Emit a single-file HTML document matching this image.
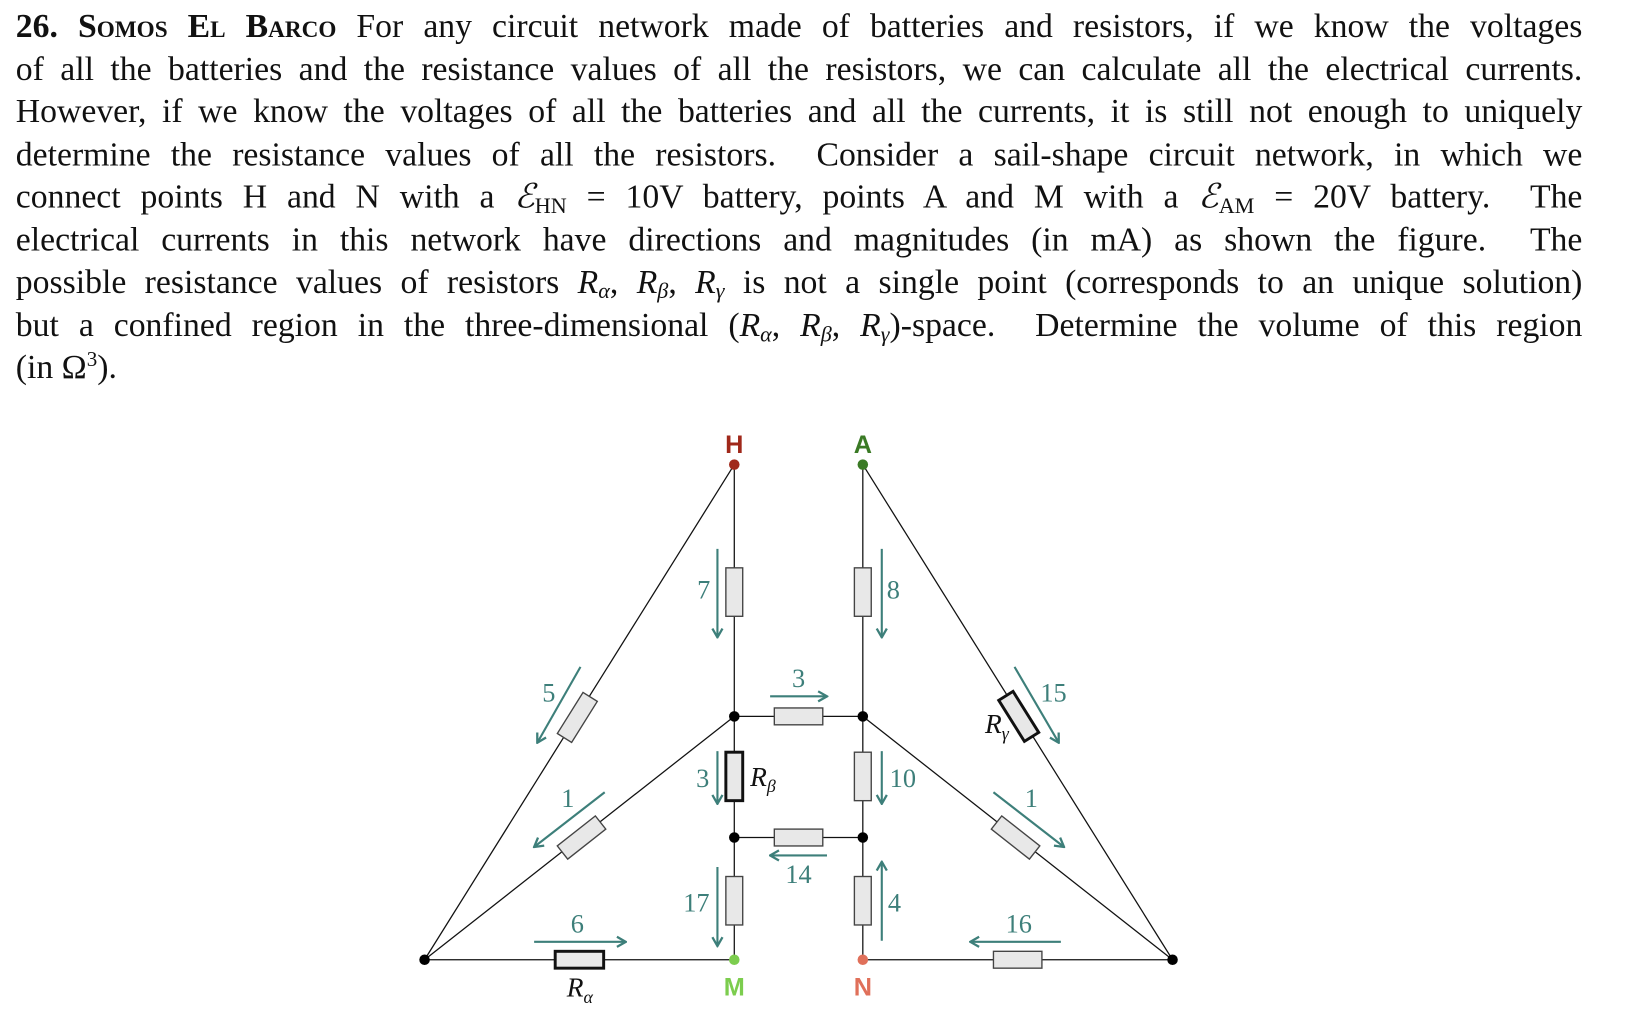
<!DOCTYPE html>
<html><head><meta charset="utf-8"><style>
html,body{margin:0;padding:0;background:#fff;width:1651px;height:1032px;overflow:hidden}
#w{position:absolute;left:0;top:0;width:1560px;height:975px;transform:scale(1.0535);transform-origin:0 0}
.t{position:absolute;left:15px;width:1487px;font-family:"Liberation Serif",serif;font-size:32px;color:#111}
.l{height:40.5px;line-height:40.5px;text-align:justify;text-align-last:justify;white-space:nowrap}
.l.last{text-align-last:left}
i{font-style:italic}
sub{font-size:21px;vertical-align:-5px;line-height:0}
.sc{font-variant:small-caps;font-weight:bold}
</style></head><body><div id="w">
<div class="t" style="top:4px">
<div class="l"><b>26.</b> <span class="sc">Somos El Barco</span> For any circuit network made of batteries and resistors, if we know the voltages</div>
<div class="l">of all the batteries and the resistance values of all the resistors, we can calculate all the electrical currents.</div>
<div class="l">However, if we know the voltages of all the batteries and all the currents, it is still not enough to uniquely</div>
<div class="l">determine the resistance values of all the resistors. &nbsp;Consider a sail-shape circuit network, in which we</div>
<div class="l">connect points H and N with a <i>ℰ</i><sub>HN</sub> = 10V battery, points A and M with a <i>ℰ</i><sub>AM</sub> = 20V battery. &nbsp;The</div>
<div class="l">electrical currents in this network have directions and magnitudes (in mA) as shown the figure. &nbsp;The</div>
<div class="l">possible resistance values of resistors <i>R</i><sub><i>α</i></sub>, <i>R</i><sub><i>β</i></sub>, <i>R</i><sub><i>γ</i></sub> is not a single point (corresponds to an unique solution)</div>
<div class="l">but a confined region in the three-dimensional (<i>R</i><sub><i>α</i></sub>, <i>R</i><sub><i>β</i></sub>, <i>R</i><sub><i>γ</i></sub>)-space. &nbsp;Determine the volume of this region</div>
<div class="l last">(in Ω<sup style="font-size:20px;line-height:0">3</sup>).</div>
</div>
<svg style="position:absolute;left:0;top:0" width="1560" height="975" viewBox="0 0 1560 975">
<defs><marker id="ah" viewBox="0 0 10 10" refX="9" refY="5" markerWidth="12" markerHeight="12" orient="auto" markerUnits="userSpaceOnUse"><polyline points="2,1 9,5 2,9" fill="none" stroke="#3d7f7a" stroke-width="1.8"/></marker></defs>
<g stroke="#111" stroke-width="1.2" fill="none">
<line x1="697" y1="441" x2="403" y2="911"/><line x1="819" y1="441" x2="1113" y2="911"/>
<line x1="697" y1="441" x2="697" y2="911"/><line x1="819" y1="441" x2="819" y2="911"/>
<line x1="697" y1="680" x2="403" y2="911"/><line x1="819" y1="680" x2="1113" y2="911"/>
<line x1="697" y1="680" x2="819" y2="680"/><line x1="697" y1="795" x2="819" y2="795"/>
<line x1="403" y1="911" x2="697" y2="911"/><line x1="819" y1="911" x2="1113" y2="911"/>
</g>
<g fill="#e8e8e8" stroke="#444" stroke-width="1.3">
<rect x="689" y="539" width="16" height="46"/><rect x="811" y="539" width="16" height="46"/>
<rect x="735" y="672" width="46" height="16"/><rect x="811" y="714" width="16" height="46"/>
<rect x="735" y="787" width="46" height="16"/>
<rect x="689" y="832" width="16" height="46"/><rect x="811" y="832" width="16" height="46"/>
<rect x="943" y="903" width="46" height="16"/>
<rect x="-23" y="-8" width="46" height="16" transform="translate(548,681) rotate(122)"/>
<rect x="-23" y="-8" width="46" height="16" transform="translate(552,795) rotate(141.8)"/>
<rect x="-23" y="-8" width="46" height="16" transform="translate(964,795) rotate(38.2)"/>
</g>
<g fill="#e8e8e8" stroke="#111" stroke-width="2.8">
<rect x="689" y="714" width="16" height="46"/>
<rect x="527" y="903" width="46" height="16"/>
<rect x="-23" y="-8" width="46" height="16" transform="translate(967,680) rotate(58)"/>
</g>
<g stroke="#3d7f7a" stroke-width="2" marker-end="url(#ah)">
<line x1="681" y1="521" x2="681" y2="605"/><line x1="837" y1="521" x2="837" y2="605"/>
<line x1="731" y1="661" x2="785" y2="661"/>
<line x1="681" y1="713" x2="681" y2="763"/><line x1="837" y1="713" x2="837" y2="763"/>
<line x1="785" y1="812" x2="731" y2="812"/>
<line x1="681" y1="823" x2="681" y2="898"/><line x1="837" y1="893" x2="837" y2="818"/>
<line x1="507" y1="894" x2="594" y2="894"/><line x1="1007" y1="894" x2="921" y2="894"/>
<line x1="551" y1="633" x2="510" y2="705"/><line x1="574" y1="752" x2="507" y2="804"/>
<line x1="963" y1="633" x2="1005" y2="705"/><line x1="943" y1="752" x2="1010" y2="804"/>
</g>
<g fill="#3d7f7a" font-family="Liberation Serif,serif" font-size="25" text-anchor="middle">
<text x="668" y="568">7</text><text x="848" y="568">8</text><text x="758" y="652">3</text>
<text x="667" y="747">3</text><text x="857" y="747">10</text><text x="758" y="838">14</text>
<text x="661" y="865">17</text><text x="849" y="865">4</text>
<text x="548" y="885">6</text><text x="967" y="885">16</text>
<text x="521" y="666">5</text><text x="539" y="766">1</text>
<text x="1000" y="666">15</text><text x="979" y="766">1</text>
</g>
<g fill="#111" font-family="Liberation Serif,serif" font-style="italic" font-size="26">
<text x="712" y="746">R<tspan font-size="17" dy="6">β</tspan></text>
<text x="538" y="946">R<tspan font-size="17" dy="6">α</tspan></text>
<text x="935" y="696">R<tspan font-size="17" dy="6">γ</tspan></text>
</g>
<g font-family="Liberation Sans,sans-serif" font-weight="bold" font-size="24" text-anchor="middle">
<text x="697" y="430" fill="#a0281a">H</text><text x="819" y="430" fill="#3a7a25">A</text>
<text x="697" y="945" fill="#7ccd4e">M</text><text x="819" y="945" fill="#e0705a">N</text>
</g>
<circle cx="697" cy="441" r="5" fill="#a0281a"/><circle cx="819" cy="441" r="5" fill="#3a7a25"/>
<circle cx="697" cy="911" r="5" fill="#7ccd4e"/><circle cx="819" cy="911" r="5" fill="#e0705a"/>
<g fill="#000"><circle cx="403" cy="911" r="5"/><circle cx="1113" cy="911" r="5"/>
<circle cx="697" cy="680" r="5"/><circle cx="819" cy="680" r="5"/><circle cx="697" cy="795" r="5"/><circle cx="819" cy="795" r="5"/></g>
</svg>
</div></body></html>
